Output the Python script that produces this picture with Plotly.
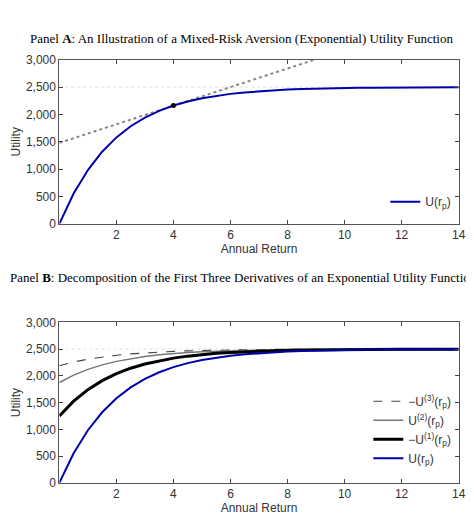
import plotly.graph_objects as go

r = [i*0.5 for i in range(29)]
U = [0,553,983,1318,1580,1784,1943,2066,2162,2237,2295,2340,2376,2403,2424,2441,2454,2464,2472,2478,2483,2487,2490,2492,2494,2495,2496,2497,2498]
U1 = [1250,1526,1742,1909,2040,2142,2221,2283,2331,2368,2397,2420,2438,2451,2462,2470,2477,2482,2486,2489,2491,2493,2495,2496,2497,2498,2498,2498,2499]
U2 = [1875,2013,2121,2205,2270,2321,2361,2392,2416,2434,2449,2460,2469,2476,2481,2485,2488,2491,2493,2495,2496,2497,2497,2498,2498,2499,2499,2499,2500]
U3 = [2188,2257,2311,2352,2385,2411,2430,2446,2458,2467,2474,2480,2484,2488,2491,2493,2494,2495,2496,2497,2498,2498,2499,2499,2499,2500,2500,2500,2500]
tan_x = [0, 9.2]
tan_y = [1480, 3044]
pt_x = [4]; pt_y = [2162]
asym = 2500
xticks = [2,4,6,8,10,12,14]
yticks = [0,500,1000,1500,2000,2500,3000]

fig = go.Figure()
for ax in ["1", "2"]:
    xa = "x" if ax == "1" else "x2"; ya = "y" if ax == "1" else "y2"
    fig.add_trace(go.Scatter(x=[0,14], y=[asym,asym], mode="lines", line=dict(color="#dddddd", width=1, dash="dot"), xaxis=xa, yaxis=ya, showlegend=False))

fig.add_trace(go.Scatter(x=tan_x, y=tan_y, mode="lines", line=dict(color="#888888", width=2, dash="dot"), showlegend=False))
fig.add_trace(go.Scatter(x=r, y=U, mode="lines", line=dict(color="#0000aa", width=2), name="U(r<sub>p</sub>)", legend="legend"))
fig.add_trace(go.Scatter(x=pt_x, y=pt_y, mode="markers", marker=dict(color="black", size=5), showlegend=False))

fig.add_trace(go.Scatter(x=r, y=U3, mode="lines", line=dict(color="#444444", width=1.2, dash="dash"), name="−U<sup>(3)</sup>(r<sub>p</sub>)", xaxis="x2", yaxis="y2", legend="legend2"))
fig.add_trace(go.Scatter(x=r, y=U2, mode="lines", line=dict(color="#777777", width=1.5), name="U<sup>(2)</sup>(r<sub>p</sub>)", xaxis="x2", yaxis="y2", legend="legend2"))
fig.add_trace(go.Scatter(x=r, y=U1, mode="lines", line=dict(color="black", width=3), name="−U<sup>(1)</sup>(r<sub>p</sub>)", xaxis="x2", yaxis="y2", legend="legend2"))
fig.add_trace(go.Scatter(x=r, y=U, mode="lines", line=dict(color="#0000aa", width=2), name="U(r<sub>p</sub>)", xaxis="x2", yaxis="y2", legend="legend2"))

axx = dict(range=[0,14], tickvals=xticks, ticks="inside", ticklen=4, mirror="ticks", showline=True, linecolor="#555", showgrid=False, zeroline=False, tickfont=dict(size=12, color="#333"))
axy = dict(range=[0,3000], tickvals=yticks, tickformat=",", ticks="inside", ticklen=4, mirror="ticks", showline=True, linecolor="#555", showgrid=False, zeroline=False, tickfont=dict(size=12, color="#333"))
fig.update_layout(
    width=474, height=517, margin=dict(l=0, r=0, t=0, b=0),
    paper_bgcolor="white", plot_bgcolor="white",
    font=dict(family="Liberation Sans, Arial", color="#333"),
    xaxis=dict(axx, domain=[0.11,0.965], anchor="y", title=dict(text="Annual Return", standoff=0, font=dict(size=12))),
    yaxis=dict(axy, domain=[0.585,0.911], anchor="x", title=dict(text="Utility", standoff=2, font=dict(size=12))),
    xaxis2=dict(axx, domain=[0.11,0.965], anchor="y2", title=dict(text="Annual Return", standoff=0, font=dict(size=12))),
    yaxis2=dict(axy, domain=[0.07,0.389], anchor="x2", title=dict(text="Utility", standoff=2, font=dict(size=12))),
    legend=dict(x=0.96, y=0.60, xanchor="right", yanchor="bottom", bgcolor="rgba(0,0,0,0)", font=dict(size=12), tracegroupgap=0, itemwidth=30),
    legend2=dict(x=0.96, y=0.09, xanchor="right", yanchor="bottom", bgcolor="rgba(0,0,0,0)", font=dict(size=12), tracegroupgap=0, itemwidth=30),
    annotations=[
        dict(text="Panel <b>A</b>: An Illustration of a Mixed-Risk Aversion (Exponential) Utility Function", x=0.5, y=1-14/517, xref="paper", yref="paper", showarrow=False, font=dict(family="Liberation Serif, Times New Roman", size=13, color="black")),
        dict(text="Panel <b>B</b>: Decomposition of the First Three Derivatives of an Exponential Utility Function", x=0.0, y=1-270/517, xref="paper", yref="paper", xanchor="left", showarrow=False, font=dict(family="Liberation Serif, Times New Roman", size=13, color="black")),
    ],
)
fig.write_html("out.html")
